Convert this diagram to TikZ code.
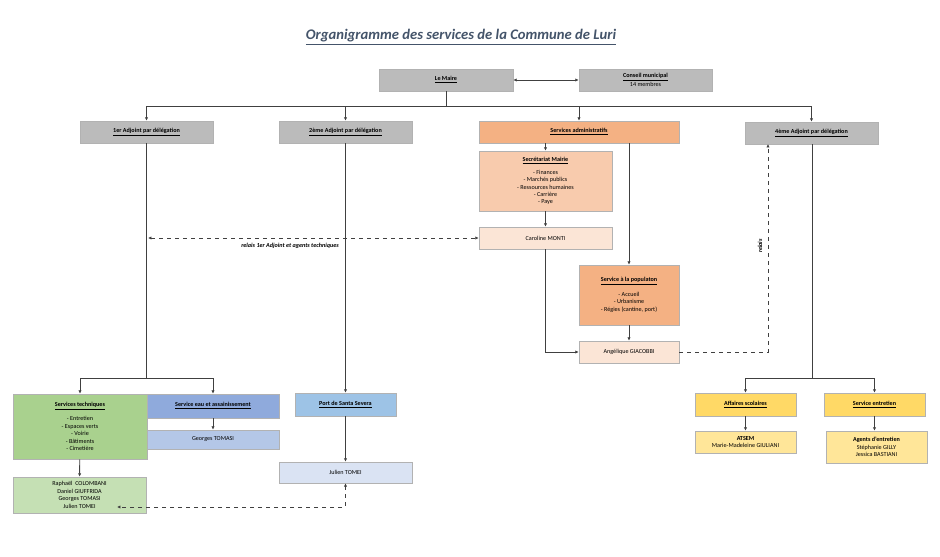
\documentclass[tikz,border=0pt]{standalone}
\usepackage{fontspec}
\setmainfont{Carlito}
\usetikzlibrary{arrows.meta}
\definecolor{gr}{HTML}{BBBBBB}
\definecolor{or1}{HTML}{F4B183}
\definecolor{or2}{HTML}{F8CBAD}
\definecolor{or3}{HTML}{FBE5D6}
\definecolor{gn1}{HTML}{A9D18E}
\definecolor{gn2}{HTML}{C5E0B4}
\definecolor{bl1}{HTML}{8FAADC}
\definecolor{bl2}{HTML}{B4C7E7}
\definecolor{bl3}{HTML}{9DC3E6}
\definecolor{bl4}{HTML}{DAE3F3}
\definecolor{ye1}{HTML}{FFD966}
\definecolor{ye2}{HTML}{FFE699}
\definecolor{ttl}{HTML}{44546A}
\begin{document}
\begin{tikzpicture}[x=0.75pt,y=-0.75pt,
  box/.style={draw=black!30,line width=0.5pt,inner sep=1pt,align=center,font=\fontsize{4.6}{5.6}\selectfont},
  ln/.style={draw=black!75,line width=0.7pt},
  arr/.style={ln,-{Latex[length=2.5pt,width=2.5pt]}},
  darr/.style={ln,dashed,-{Latex[length=2.5pt,width=2.5pt]}}]
\useasboundingbox[fill=white] (0,0) rectangle (940,557);
\node[font=\bfseries\itshape\fontsize{11}{13}\selectfont,text=ttl] (title) at (461,37) {\underline{Organigramme des services de la Commune de Luri}};
\node[box,fill=gr,minimum width=100.5pt,minimum height=16.5pt,anchor=center] (maire) at (446,80) {\textbf{\underline{Le Maire}}};
\node[box,fill=gr,minimum width=99.8pt,minimum height=16.5pt] (conseil) at (645.5,80) {\textbf{\underline{Conseil municipal}}\\14 membres};
\node[box,fill=gr,minimum width=99.8pt,minimum height=16.5pt] (a1) at (146.5,132) {\textbf{\underline{1er Adjoint par délégation}}};
\node[box,fill=gr,minimum width=99.8pt,minimum height=16.5pt] (a2) at (345.5,132) {\textbf{\underline{2ème Adjoint par délégation}}};
\node[box,fill=or1,minimum width=150pt,minimum height=16.5pt] (adm) at (579,132) {\textbf{\underline{Services administratifs}}};
\node[box,fill=gr,minimum width=99.8pt,minimum height=16.5pt] (a4) at (811.5,133) {\textbf{\underline{4ème Adjoint par délégation}}};
\node[box,fill=or2,minimum width=99.8pt,minimum height=45pt] (sec) at (545.5,181) {\textbf{\underline{Secrétariat Mairie}}\\[4pt]- Finances\\- Marchés publics\\- Ressources humaines\\- Carrière\\- Paye};
\node[box,fill=or3,minimum width=99.8pt,minimum height=16.5pt] (caro) at (545.5,238) {Caroline MONTI};
\node[box,fill=or1,minimum width=75pt,minimum height=45pt] (spop) at (629,295) {\textbf{\underline{Service à la populaton}}\\[4pt]- Accueil\\- Urbanisme\\- Régies (cantine, port)};
\node[box,fill=or3,minimum width=75pt,minimum height=16.5pt] (ang) at (629,352) {Angélique GIACOBBI};
\node[box,fill=gn1,minimum width=100.5pt,minimum height=48.8pt] (tech) at (80,426.5) {\textbf{\underline{Services techniques}}\\[4pt]- Entretien\\- Espaces verts\\- Voirie\\- Bâtiments\\- Cimetière};
\node[box,fill=bl1,minimum width=99pt,minimum height=18pt] (eau) at (213,406) {\textbf{\underline{Service eau et assainissement}}};
\node[box,fill=bl2,minimum width=99pt,minimum height=14.3pt] (geo) at (213,439.5) {Georges TOMASI};
\node[box,fill=gn2,minimum width=99.8pt,minimum height=27pt] (raph) at (79.5,495) {Raphaël\ \ COLOMBANI\\Daniel GIUFFRIDA\\Georges TOMASI\\Julien TOMEI};
\node[box,fill=bl3,minimum width=75.8pt,minimum height=17.3pt] (port) at (345.5,404.5) {\textbf{\underline{Port de Santa Severa}}};
\node[box,fill=bl4,minimum width=99.8pt,minimum height=15.8pt] (jul) at (345.5,472.5) {Julien TOMEI};
\node[box,fill=ye1,minimum width=75.8pt,minimum height=17.3pt] (aff) at (745.5,404.5) {\textbf{\underline{Affaires scolaires}}};
\node[box,fill=ye2,minimum width=75.8pt,minimum height=16.5pt] (atsem) at (745.5,442) {\textbf{ATSEM}\\Marie-Madeleine GIULIANI};
\node[box,fill=ye1,minimum width=75.8pt,minimum height=17.3pt] (ent) at (874.5,404.5) {\textbf{\underline{Service entretien}}};
\node[box,fill=ye2,minimum width=75.8pt,minimum height=24pt] (agents) at (876.5,447) {\textbf{Agents d'entretien}\\Stéphanie GILLY\\Jessica BASTIANI};
\coordinate (bus) at (446,106);
\coordinate (b1) at (146,378);
\coordinate (b4) at (812,378);
% connectors
\draw[ln,{Latex[length=2.5pt,width=2.5pt]}-{Latex[length=2.5pt,width=2.5pt]}] (maire) -- (conseil);
\draw[ln] (maire.south) -- (bus);
\draw[arr] (bus) -| (a1.north);
\draw[arr] (bus) -| (a2.north);
\draw[arr] (bus) -| (adm.north);
\draw[arr] (bus) -| (a4.north);
\draw[arr] (adm.south -| sec.north) -- (sec.north);
\draw[arr] (sec) -- (caro);
\draw[arr] (adm.south -| spop.north) -- (spop.north);
\draw[arr] (spop) -- (ang);
\draw[arr] (caro.south) |- (ang.west);
\draw[darr,{Latex[length=2.5pt,width=2.5pt]}-{Latex[length=2.5pt,width=2.5pt]}] (148,238) -- (caro.west);
\node[font=\bfseries\itshape\fontsize{4.6}{5.6}\selectfont] (rl1) at (290,246) {relais 1er Adjoint et agents techniques};
\draw[darr] (ang.east) -| (768,144);
\node[font=\bfseries\itshape\fontsize{4.6}{5.6}\selectfont,rotate=90] (rl2) at (760,246) {relais};
\draw[ln] (a1.south -| b1) -- (b1);
\draw[arr] (b1) -| (tech.north);
\draw[arr] (b1) -| (eau.north);
\draw[arr] (eau) -- (geo);
\draw[arr] (tech) -- (raph);
\draw[arr] (a2) -- (port);
\draw[arr] (port) -- (jul);
\draw[darr,{Latex[length=2.5pt,width=2.5pt]}-{Latex[length=2.5pt,width=2.5pt]}] (jul.south) |- (117,507);
\draw[ln] (a4.south -| b4) -- (b4);
\draw[arr] (b4) -| (aff.north);
\draw[arr] (b4) -| (ent.north);
\draw[arr] (aff) -- (atsem);
\draw[arr] (ent.south) -- (ent.south |- agents.north);
\end{tikzpicture}
\end{document}
